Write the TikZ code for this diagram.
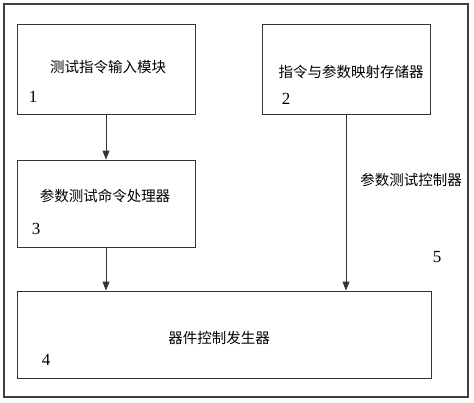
\documentclass[tikz,border=0pt]{standalone}
\usepackage{fontspec}
\newfontfamily\cjk{Noto Sans CJK SC}
\newfontfamily\ziffer{Liberation Serif}
\usetikzlibrary{arrows.meta}

\begin{document}
\begin{tikzpicture}[x=1pt,y=-1pt,
  modul/.style={draw=black!80,line width=0.9pt,inner sep=0pt},
  txt/.style={font=\cjk\fontsize{14.5}{16}\selectfont},
  nr/.style={font=\ziffer\fontsize{17}{19}\selectfont},
  pfeil/.style={draw=black!80,line width=0.9pt,-{Triangle[length=9pt,width=7pt]}}]
\useasboundingbox (0,0) rectangle (474,402);
\draw[black!75,line width=1.3pt] (4,4) rectangle (468,397);
\node[modul,minimum width=178,minimum height=90] (input) at (106,69) {};
\node[modul,minimum width=168,minimum height=90] (memory) at (346,69) {};
\node[modul,minimum width=178,minimum height=87] (proc) at (106,203.5) {};
\node[modul,minimum width=414,minimum height=87] (gen) at (224,334.5) {};
\node[txt] (inputtext) at (108,67) {测试指令输入模块};
\node[txt] (memorytext) at (351,72) {指令与参数映射存储器};
\node[txt] (proctext) at (105,196) {参数测试命令处理器};
\node[txt] (gentext) at (219,338) {器件控制发生器};
\node[txt] (ctrltext) at (411,180) {参数测试控制器};
\node[nr] (n1) at (33,97) {1};
\node[nr] (n2) at (286,99) {2};
\node[nr] (n3) at (36,229) {3};
\node[nr] (n4) at (46,360) {4};
\node[nr] (n5) at (437,257) {5};
\draw[pfeil] (input) -- (proc);
\draw[pfeil] (proc.south) -- (proc.south |- gen.north);
\draw[pfeil] (memory.south) -- (memory.south |- gen.north);
\end{tikzpicture}
\end{document}
